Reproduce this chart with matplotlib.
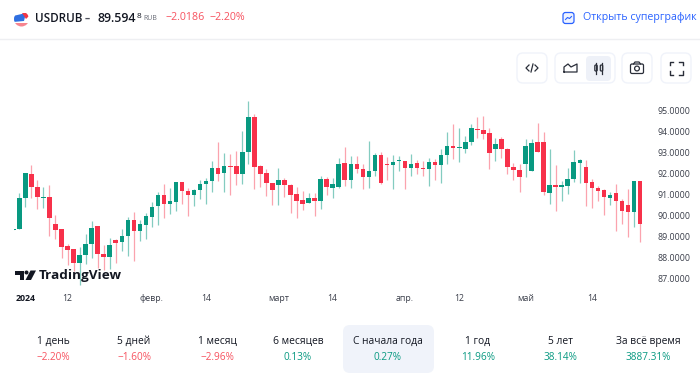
import matplotlib
matplotlib.use("Agg")
import matplotlib.pyplot as plt
from matplotlib.patches import FancyBboxPatch, Circle, Polygon, Rectangle

plt.rcParams['font.family'] = ['Open Sans', 'DejaVu Sans']

# candles
opens = [89.32, 89.33, 90.81, 91.98, 91.33, 90.84, 90.86, 89.60, 89.36, 88.52,
         88.38, 87.73, 88.09, 88.62, 89.51, 88.17, 88.00, 88.84, 88.71, 89.02,
         89.76, 89.25, 89.54, 89.92, 90.44, 90.98, 90.54, 90.63, 91.57, 91.16,
         90.97, 91.20, 91.48, 91.62, 92.25, 92.00, 92.35, 92.33, 91.97, 93.03,
         94.70, 92.33, 92.01, 91.54, 91.44, 91.68, 91.44, 91.00, 90.71, 90.60,
         90.82, 90.67, 91.73, 91.30, 91.33, 92.48, 91.70, 92.44, 92.20, 91.84,
         92.09, 92.89, 92.44, 92.41, 92.57, 92.57, 92.24, 92.48, 92.25, 92.22,
         92.52, 92.38, 92.87, 93.29, 93.22, 93.16, 93.47, 94.13, 94.06, 93.90,
         93.16, 93.62, 93.17, 92.30, 92.16, 92.44, 92.13, 93.49, 93.49, 91.08,
         91.43, 91.33, 91.41, 91.71, 92.51, 92.30, 91.57, 91.32, 91.19, 90.82,
         91.05, 90.68, 90.47, 90.16, 91.62]
closes = [89.35, 90.82, 92.00, 91.33, 90.89, 90.89, 89.87, 89.32, 88.49, 88.36,
          87.73, 88.09, 88.62, 89.41, 88.17, 88.00, 88.59, 88.70, 89.02, 89.78,
          89.25, 89.59, 89.95, 90.40, 90.98, 90.54, 90.67, 91.57, 91.16, 90.97,
          91.20, 91.49, 91.62, 92.25, 91.98, 92.33, 92.32, 91.97, 93.02, 94.70,
          92.30, 91.98, 91.52, 91.22, 91.68, 91.44, 90.95, 90.70, 90.55, 90.82,
          90.68, 91.73, 91.33, 91.51, 92.44, 91.70, 92.44, 92.20, 91.84, 92.09,
          92.87, 91.52, 92.41, 92.54, 92.59, 92.24, 92.44, 92.25, 92.22, 92.54,
          92.38, 92.87, 93.29, 93.22, 93.25, 93.49, 94.14, 94.05, 93.89, 92.97,
          93.40, 93.16, 92.29, 92.16, 91.84, 93.32, 93.43, 93.03, 91.11, 91.44,
          91.33, 91.43, 91.73, 92.52, 92.65, 91.55, 91.30, 91.17, 90.86, 90.98,
          90.67, 90.20, 90.16, 91.62, 89.57]
highs = [89.35, 91.05, 92.00, 92.41, 91.68, 91.33, 91.44, 90.01, 89.36, 88.63,
         88.38, 88.51, 89.09, 89.74, 89.51, 88.59, 88.90, 88.87, 89.33, 89.93,
         90.17, 89.78, 90.09, 90.65, 91.13, 91.48, 91.29, 91.57, 91.57, 91.32,
         91.27, 91.68, 91.79, 92.60, 93.47, 92.97, 92.90, 93.06, 94.03, 95.43,
         94.82, 92.40, 92.22, 91.54, 92.25, 91.78, 91.49, 91.33, 91.16, 91.05,
         91.05, 91.87, 91.81, 91.78, 92.71, 93.27, 92.82, 92.84, 92.44, 93.54,
         92.95, 93.00, 92.79, 92.87, 92.82, 92.60, 92.90, 92.62, 92.59, 92.71,
         92.68, 93.17, 93.95, 94.35, 94.14, 93.79, 94.33, 94.67, 94.74, 94.14,
         93.67, 93.74, 93.19, 92.48, 92.44, 93.63, 93.63, 94.41, 93.98, 93.14,
         92.40, 91.65, 92.27, 93.09, 92.68, 92.63, 91.73, 91.41, 91.25, 91.13,
         91.48, 90.76, 91.24, 91.65, 91.65]
lows = [89.32, 89.33, 90.38, 90.81, 90.30, 90.37, 89.03, 88.87, 87.95, 87.63,
        87.35, 86.68, 87.68, 87.98, 87.48, 87.40, 87.44, 87.74, 88.32, 88.08,
        87.82, 88.78, 88.86, 89.43, 89.54, 89.86, 90.06, 90.22, 90.52, 89.98,
        90.46, 90.79, 90.54, 91.13, 91.65, 91.11, 90.98, 91.43, 91.51, 92.44,
        91.25, 91.36, 90.92, 90.51, 90.48, 90.89, 90.13, 89.89, 90.25, 90.57,
        89.97, 90.28, 90.98, 90.84, 91.32, 91.40, 91.30, 92.00, 91.25, 91.32,
        91.87, 91.51, 91.68, 91.25, 92.13, 91.25, 91.87, 91.97, 91.87, 91.41,
        91.68, 91.55, 92.44, 92.68, 92.55, 92.95, 93.35, 93.70, 93.62, 92.20,
        92.59, 92.71, 91.97, 91.68, 91.13, 91.84, 92.11, 93.02, 90.98, 90.54,
        90.22, 90.68, 91.02, 91.60, 91.55, 90.44, 90.35, 90.70, 90.03, 90.49,
        89.24, 89.60, 88.98, 89.46, 88.74]

price_ticks = [87, 88, 89, 90, 91, 92, 93, 94, 95]
date_pos = [2, 9, 23, 32, 44, 53, 65, 74, 85, 96]
date_labels = ['2024', '12', 'февр.', '14', 'март', '14', 'апр.', '12', 'май', '14']

periods = ['1 день', '5 дней', '1 месяц', '6 месяцев', 'С начала года', '1 год', '5 лет', 'За всё время']
changes = ['−2.20%', '−1.60%', '−2.96%', '0.13%', '0.27%', '11.96%', '38.14%', '3887.31%']
period_x = [53, 134, 217, 298, 388, 478, 560, 648]

GREEN = '#089981'
RED = '#f7314a'
DARK = '#131722'
W, H = 700, 378

fig = plt.figure(figsize=(7, 3.78), dpi=100)
ax = fig.add_axes([14 / W, 1 - 290 / H, (653 - 14) / W, 200 / H], zorder=1)
x = list(range(len(opens)))
wick_cols = [('#84ccc0' if c >= o else '#fba3ae') for o, c in zip(opens, closes)]
body_cols = [(GREEN if c >= o else RED) for o, c in zip(opens, closes)]
ax.vlines(x, lows, highs, colors=wick_cols, lw=0.9, zorder=2)
ax.bar(x, [max(abs(c - o), 0.05) for o, c in zip(opens, closes)],
       bottom=[min(o, c) for o, c in zip(opens, closes)],
       width=0.75, color=body_cols, zorder=3)
ax.set_xlim(0.116, 106.15)
ax.set_ylim(86.443, 95.967)
for s in ax.spines.values():
    s.set_visible(False)
ax.yaxis.tick_right()
ax.set_yticks(price_ticks)
ax.set_yticklabels(['%.4f' % p for p in price_ticks], fontsize=6.3, color='#3a3e4a')
ax.set_xticks(date_pos)
ax.set_xticklabels(date_labels, fontsize=6.3, color='#3a3e4a')
ax.get_xticklabels()[0].set_fontweight('bold')
ax.get_xticklabels()[0].set_color(DARK)
ax.tick_params(length=0, pad=3)

# everything around the chart, in pixels
ui = fig.add_axes([0, 0, 1, 1], zorder=2)
ui.set_xlim(0, W)
ui.set_ylim(H, 0)
ui.axis('off')
ui.patch.set_alpha(0)

ui.plot([0, 700], [38.5, 38.5], color='#eeeff2', lw=1)

# flag
flag = Circle((21.5, 19), 7.5, transform=ui.transData)
for pts, col in [([(13, 16), (26, 13), (24, 21), (13, 22)], '#2f6fe0'),
                 ([(22, 13), (30, 13), (30, 15), (26, 19)], '#f23645'),
                 ([(13, 22.5), (30, 22.5), (30, 27), (13, 27)], '#f7848f')]:
    p = Polygon(pts, fc=col, ec='none')
    ui.add_patch(p)
    p.set_clip_path(flag)

ui.text(35, 18, 'USDRUB', fontsize=8.4, fontweight='semibold', color=DARK, va='center')
ui.text(85, 18, '–', fontsize=7.5, fontweight='bold', color='#50535e', va='center')
ui.text(98, 18, '89.594', fontsize=8.9, fontweight='semibold', color=DARK, va='center')
ui.text(136.5, 16.5, '8', fontsize=6, color=DARK, va='center')
ui.text(143, 19, 'RUB', fontsize=5, color='#6a6d78', va='center')
ui.text(165, 18, '−2.0186', fontsize=7.7, color='#f7525f', va='center')
ui.text(210, 18, '−2.20%', fontsize=7.7, color='#f7525f', va='center')

# supergraph link
BLUE = '#2962ff'
ui.add_patch(FancyBboxPatch((563, 12.5), 11, 11, boxstyle='round,pad=0,rounding_size=2.5',
                            fc='#eef3ff', ec=BLUE, lw=0.9))
ui.plot([565.5, 567.5, 569.5, 571.5], [19.5, 17.5, 18.5, 16.5], color=BLUE, lw=0.8)
ui.text(583, 17.5, 'Открыть суперграфик', fontsize=7.7, color=BLUE, va='center')

# toolbar
for bx, bw in [(517, 30), (555, 60), (622, 30), (661, 30)]:
    ui.add_patch(FancyBboxPatch((bx, 53), bw, 30, boxstyle='round,pad=0,rounding_size=6',
                                fc='white', ec='#f0f3fa', lw=1))
ui.add_patch(FancyBboxPatch((586, 56), 25, 25, boxstyle='round,pad=0,rounding_size=4',
                            fc='#eef1f8', ec='none'))
ICON = '#2a2e39'
ui.plot([529, 526, 529], [65, 68, 71], color=ICON, lw=0.9)
ui.plot([535, 538, 535], [65, 68, 71], color=ICON, lw=0.9)
ui.plot([531, 533], [72, 64], color=ICON, lw=0.9)
ui.plot([564, 564, 568, 571, 577, 577, 564], [72, 67, 64, 67, 64, 72, 72], color=ICON, lw=0.9)
for cx in (596, 601.5):
    ui.plot([cx, cx], [62.5, 74], color=ICON, lw=0.9)
    ui.add_patch(FancyBboxPatch((cx - 1.2, 65), 2.4, 6, boxstyle='round,pad=0,rounding_size=1',
                                fc='#eef1f8', ec=ICON, lw=0.9))
ui.add_patch(FancyBboxPatch((630.5, 64), 13, 9.5, boxstyle='round,pad=0,rounding_size=1.5',
                            fc='white', ec=ICON, lw=0.9))
ui.plot([633.5, 635, 639, 640.5], [64, 62, 62, 64], color=ICON, lw=0.9)
ui.add_patch(Circle((637, 68.5), 2.4, fc='white', ec=ICON, lw=0.9))
for sx, sy in [(-1, -1), (1, -1), (-1, 1), (1, 1)]:
    ui.plot([676 + sx * 6.5, 676 + sx * 6.5, 676 + sx * 3],
            [68 + sy * 3, 68 + sy * 6.5, 68 + sy * 6.5], color=ICON, lw=1)

# logo
ui.add_patch(Polygon([(15, 270.5), (24, 270.5), (24, 280), (19.5, 280), (19.5, 274.5), (15, 274.5)],
                     fc=DARK, ec='none'))
ui.add_patch(Circle((26.5, 272.5), 2, fc=DARK, ec='none'))
ui.add_patch(Polygon([(30.5, 270.5), (36, 270.5), (31, 280), (25.5, 280)], fc=DARK, ec='none'))
ui.text(39, 275, 'TradingView', fontsize=9.7, fontweight='bold', color=DARK, va='center')

# periods
ui.add_patch(FancyBboxPatch((343, 325), 91, 48, boxstyle='round,pad=0,rounding_size=7',
                            fc='#f0f3fa', ec='none'))
for name, ch, px in zip(periods, changes, period_x):
    ui.text(px, 341.5, name, fontsize=7.4, color=DARK, ha='center', va='center')
    ui.text(px, 357, ch, fontsize=7.2, ha='center', va='center',
            color='#f7525f' if ch.startswith('−') else GREEN)

fig.savefig('out.png', dpi=100)
